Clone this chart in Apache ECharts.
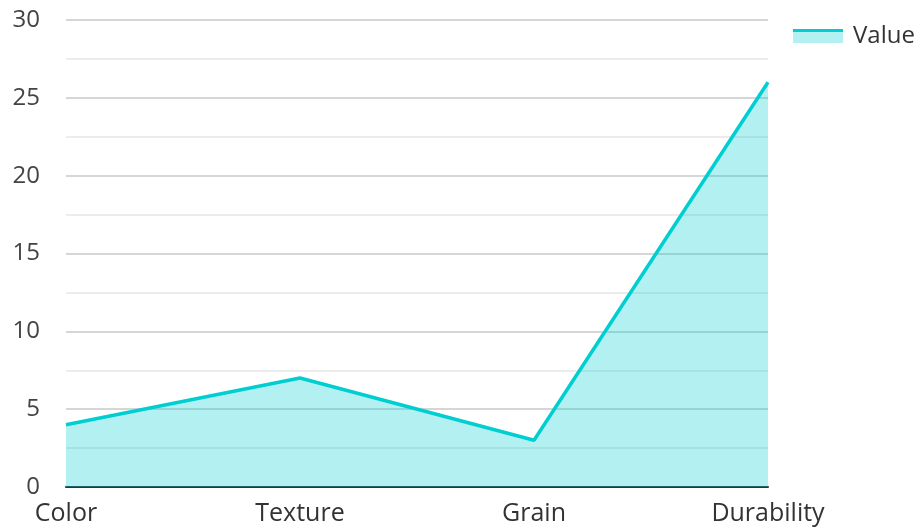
<!DOCTYPE html>
<html>
<head>
<meta charset="utf-8">
<script src="https://cdn.jsdelivr.net/npm/echarts@6/dist/echarts.min.js"></script>
<style>
  html, body { margin: 0; padding: 0; background: #fff; }
  #chart { width: 918px; height: 528px; }
</style>
</head>
<body>
<div id="chart"></div>
<script>
// data
const categories = ["Color", "Texture", "Grain", "Durability"];
const values = [4, 7, 3, 26];
const seriesName = "Value";

const lineColor = "#00CED1";
const areaColor = "rgba(0, 206, 209, 0.3)";

const myChart = echarts.init(document.getElementById("chart"));
myChart.setOption({
  textStyle: { fontFamily: "Open Sans" },
  animation: false,
  grid: { left: 66, right: 150, top: 20, bottom: 41 },
  legend: {
    left: 788,
    top: 19,
    itemWidth: 50,
    itemHeight: 14,
    itemGap: 10,
    icon: "rect",
    textStyle: { fontSize: 24, color: "#333", padding: [0, 0, 0, 5] },
    itemStyle: {
      // line on top, pale area below
      color: new echarts.graphic.LinearGradient(0, 0, 0, 1, [
        { offset: 0, color: lineColor },
        { offset: 0.22, color: lineColor },
        { offset: 0.22, color: areaColor },
        { offset: 1, color: areaColor }
      ])
    },
    data: [seriesName]
  },
  xAxis: {
    type: "category",
    data: categories,
    boundaryGap: false,
    axisLine: { lineStyle: { color: "#333", width: 2 } },
    axisTick: { show: false },
    axisLabel: { fontSize: 25, color: "#333", margin: 14 }
  },
  yAxis: {
    type: "value",
    min: 0,
    max: 30,
    interval: 5,
    axisLine: { show: false },
    axisTick: { show: false },
    axisLabel: { fontSize: 24, color: "#444", margin: 26 },
    splitLine: { lineStyle: { color: "#c8c8c8", width: 1.5 } },
    minorTick: { show: false, splitNumber: 2 },
    minorSplitLine: { show: true, lineStyle: { color: "#e6e6e6", width: 1.5 } }
  },
  series: [
    {
      name: seriesName,
      type: "line",
      data: values,
      symbol: "none",
      lineStyle: { color: lineColor, width: 3.5 },
      itemStyle: { color: lineColor },
      areaStyle: { color: areaColor, opacity: 1 }
    }
  ]
});
</script>
</body>
</html>
